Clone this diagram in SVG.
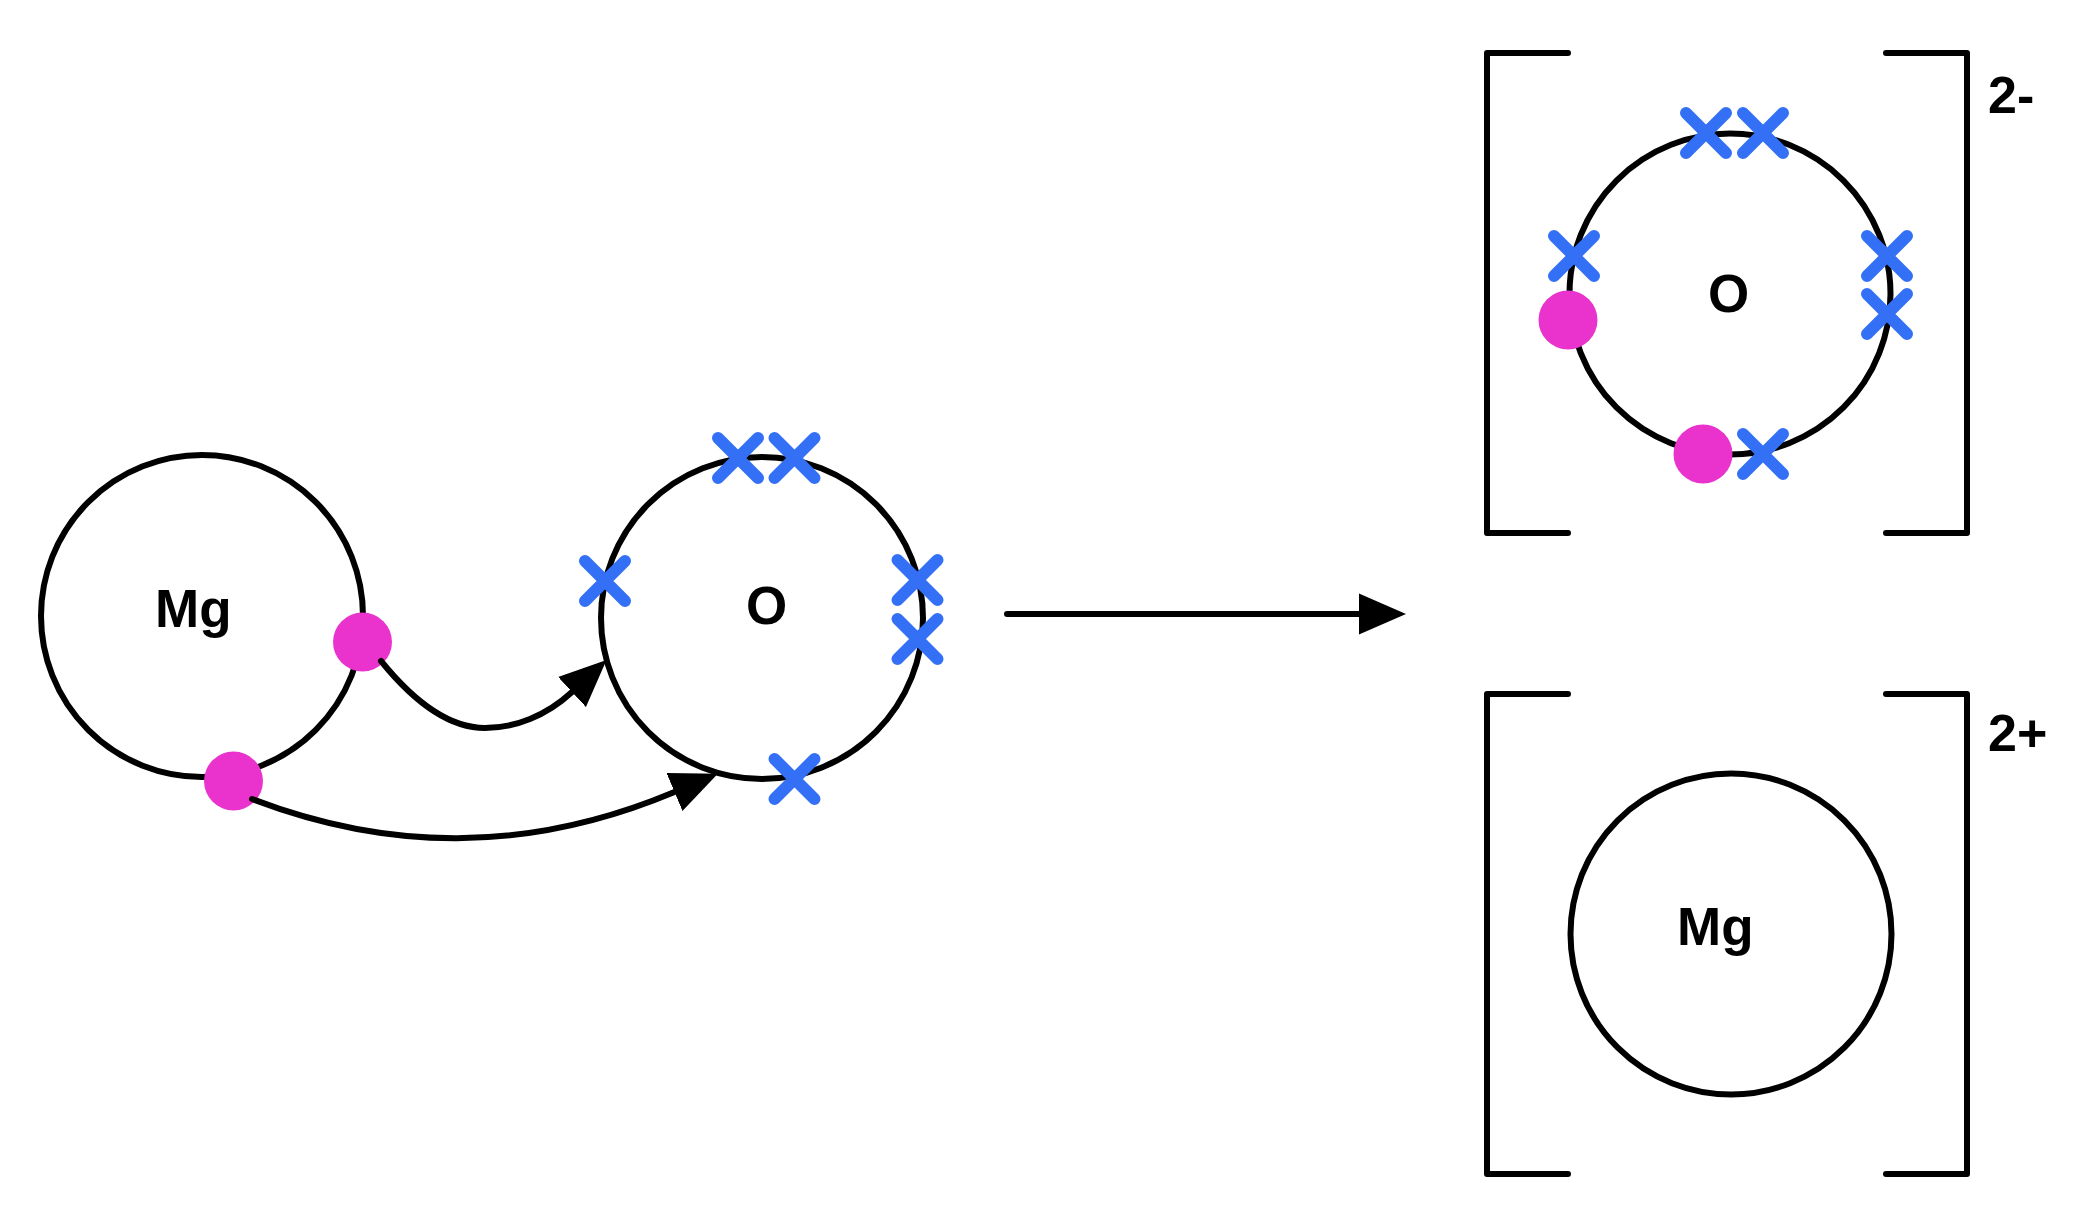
<svg xmlns="http://www.w3.org/2000/svg" width="2082" height="1231" viewBox="0 0 2082 1231">
<style>
.ring{fill:none;stroke:#000;stroke-width:6}
.e{fill:#E933CC}
.x{fill:none;stroke:#3370F6;stroke-width:12;stroke-linecap:round}
.br{fill:none;stroke:#000;stroke-width:6;stroke-linecap:round;stroke-linejoin:round}
.conn{fill:none;stroke:#000;stroke-width:6;stroke-linecap:round}
text{font-family:"Liberation Sans",Arial,sans-serif;font-weight:700;font-size:53px;fill:#000}
.chg{font-size:52px}
</style>
<defs>
<marker id="head" markerUnits="userSpaceOnUse" markerWidth="48" markerHeight="42" refX="0" refY="21" orient="auto"><path d="M0 0.5L47 21L0 41.5Z" fill="#000"/></marker>
<path id="cross" d="M-20 -20L20 20M20 -20L-20 20"/>
</defs>
<rect width="2082" height="1231" fill="#fff"/>
<g id="mg-atom">
<circle class="ring" cx="202" cy="616" r="161"/>
<text x="155" y="627">Mg</text>
</g>
<g id="o-atom">
<circle class="ring" cx="762" cy="618" r="161"/>
<text x="746" y="624">O</text>
<use href="#cross" class="x" x="738" y="458"/>
<use href="#cross" class="x" x="794.500" y="458"/>
<use href="#cross" class="x" x="605" y="581"/>
<use href="#cross" class="x" x="917.500" y="580"/>
<use href="#cross" class="x" x="917.500" y="639"/>
<use href="#cross" class="x" x="794.500" y="779"/>
</g>
<g id="mg-electrons">
<circle class="e" cx="362.500" cy="642" r="29.500"/>
<circle class="e" cx="233.500" cy="781" r="29.500"/>
</g>
<g id="connectors">
<path class="conn" marker-end="url(#head)" d="M381 661C415 703 450 728 485 728C515 728 546 716 572 692"/>
<path class="conn" marker-end="url(#head)" d="M252 799C385 850 524.500 855 674.500 792"/>
<path class="conn" marker-end="url(#head)" d="M1007 614L1359 614"/>
</g>
<g id="o-ion">
<path class="br" d="M1568 53H1487V533H1568"/>
<path class="br" d="M1886 53H1967V533H1886"/>
<circle class="ring" cx="1730" cy="294" r="160.500"/>
<text x="1708" y="312">O</text>
<text class="chg" x="1988" y="113">2-</text>
<use href="#cross" class="x" x="1706" y="133"/>
<use href="#cross" class="x" x="1763" y="133"/>
<use href="#cross" class="x" x="1574" y="256"/>
<use href="#cross" class="x" x="1887" y="256"/>
<use href="#cross" class="x" x="1887" y="314"/>
<use href="#cross" class="x" x="1763" y="454"/>
<circle class="e" cx="1568" cy="320" r="29.500"/>
<circle class="e" cx="1703" cy="454" r="29.500"/>
</g>
<g id="mg-ion">
<path class="br" d="M1568 694H1487V1174H1568"/>
<path class="br" d="M1886 694H1967V1174H1886"/>
<circle class="ring" cx="1731" cy="934" r="160.500"/>
<text x="1677" y="945">Mg</text>
<text class="chg" x="1988" y="751">2+</text>
</g>
</svg>
